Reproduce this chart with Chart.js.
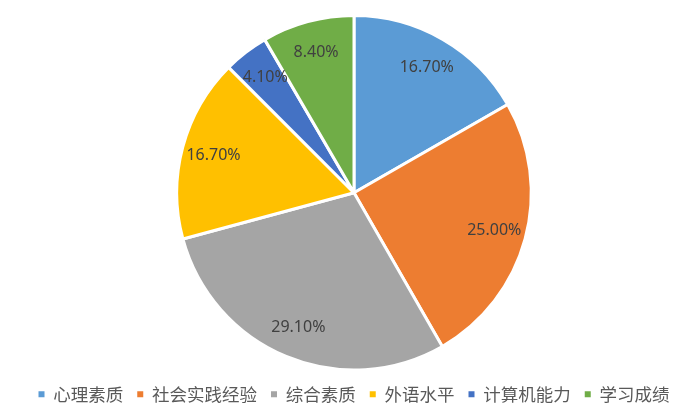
<!DOCTYPE html>
<html>
<head>
<meta charset="utf-8">
<script src="https://cdn.jsdelivr.net/npm/chart.js@4.4.0/dist/chart.umd.min.js"></script>
<style>
  html, body { margin: 0; padding: 0; background: #fff; }
  #wrap { width: 700px; height: 415px; }
</style>
</head>
<body>
<div id="wrap"><canvas id="myChart"></canvas></div>
<script>
var categories = ["心理素质", "社会实践经验", "综合素质", "外语水平", "计算机能力", "学习成绩"];
var values = [16.7, 25.0, 29.1, 16.7, 4.1, 8.4];
var colors = ["#5B9BD5", "#ED7D31", "#A5A5A5", "#FFC000", "#4472C4", "#70AD47"];

// draws the percent text inside each slice
var sliceLabels = {
    id: 'sliceLabels',
    afterDatasetsDraw: function (chart) {
        var ctx = chart.ctx;
        var arcs = chart.getDatasetMeta(0).data;
        ctx.save();
        ctx.font = '16px "Noto Sans", sans-serif';
        ctx.fillStyle = '#404040';
        ctx.textAlign = 'center';
        ctx.textBaseline = 'middle';
        for (var i = 0; i < arcs.length; i++) {
            var a = arcs[i];
            var mid = (a.startAngle + a.endAngle) / 2;
            var r = a.outerRadius * 0.82;
            ctx.fillText(values[i].toFixed(2) + '%', a.x + Math.cos(mid) * r, a.y + Math.sin(mid) * r);
        }
        ctx.restore();
    }
};

function setUpGraph() {
    var ctx = document.getElementById('myChart').getContext('2d');
    var myChart = new Chart(ctx, {
        type: 'pie',
        data: {
            labels: categories,
            datasets: [{
                data: values,
                backgroundColor: colors,
                borderColor: '#ffffff',
                borderWidth: 3
            }]
        },
        options: {
            responsive: true,
            maintainAspectRatio: false,
            animation: false,
            layout: { padding: { top: 14, left: 8, bottom: 2 } },
            plugins: {
                tooltip: { enabled: false },
                legend: {
                    position: 'bottom',
                    labels: {
                        boxWidth: 6,
                        boxHeight: 6,
                        padding: 14,
                        color: '#595959',
                        font: { size: 17.5, family: '"Noto Sans CJK SC", sans-serif' },
                        generateLabels: function (chart) {
                            var items = Chart.overrides.pie.plugins.legend.labels.generateLabels(chart);
                            items.forEach(function (it) { it.lineWidth = 0; });
                            return items;
                        }
                    }
                }
            }
        },
        plugins: [sliceLabels]
    });
}

setUpGraph();
</script>
</body>
</html>
